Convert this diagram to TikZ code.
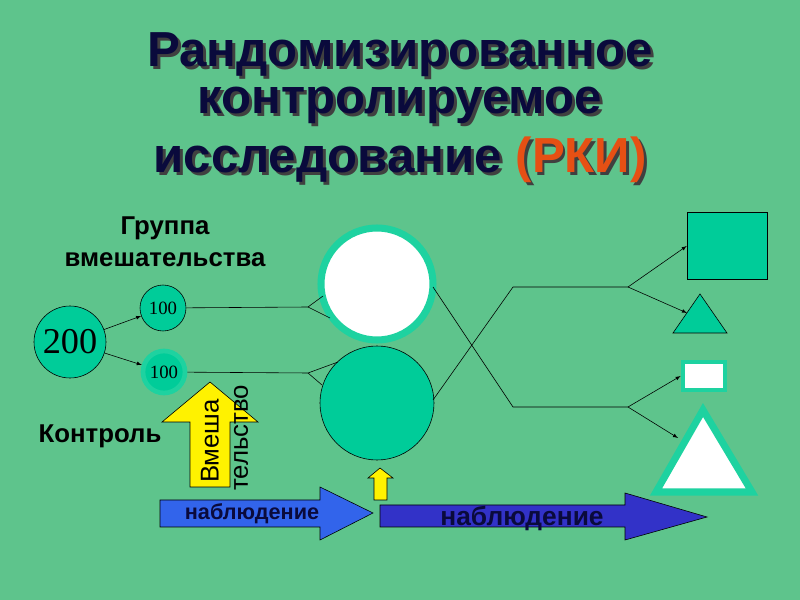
\documentclass[tikz,border=0pt]{standalone}
\usepackage{fontspec}
\setmainfont{Liberation Sans}
\newfontfamily\serf{Liberation Serif}
\definecolor{bg}{RGB}{94,196,140}
\definecolor{gr}{RGB}{0,204,153}
\definecolor{tl}{RGB}{30,210,160}
\definecolor{navy}{RGB}{10,10,60}
\definecolor{bl1}{RGB}{50,100,235}
\definecolor{bl2}{RGB}{50,50,200}
\definecolor{rk}{RGB}{230,80,20}
\tikzset{thin line/.style={draw=black,line width=0.5pt},
 arr/.style={thin line,-latex},
 ttl/.style={font=\bfseries\fontsize{42}{44}\selectfont,text=navy},
 lbl/.style={font=\bfseries\fontsize{22}{24}\selectfont}}
\begin{document}
\begin{tikzpicture}[x=0.03cm,y=-0.03cm]
\fill[bg] (0,0) rectangle (800,600);
\useasboundingbox (0,0) rectangle (800,600);
% title
\node[ttl,text=black!75] at (403,58) {Рандомизированное};
\node[ttl] (t1) at (400,55) {Рандомизированное};
\node[ttl,text=black!75] at (403,108) {контролируемое};
\node[ttl] (t2) at (400,105) {контролируемое};
\node[ttl,text=black!75] at (403,163) {исследование (РКИ)};
\node[ttl] (t3) at (400,160) {исследование \textcolor{rk}{(РКИ)}};
\node[lbl] (g1) at (165,228) {Группа};
\node[lbl] (g2) at (165,260) {вмешательства};
\node[lbl] (k) at (100,436) {Контроль};
% circles
\node[circle,fill=gr,draw=black,line width=0.5pt,minimum size=72*0.03cm,inner sep=0,font=\serf\fontsize{31}{33}\selectfont] (c200) at (70,342) {200};
\node[circle,fill=gr,draw=black,line width=0.5pt,minimum size=46*0.03cm,inner sep=0,font=\serf\fontsize{16}{18}\selectfont] (ca) at (163,308) {100};
\node[circle,fill=gr,draw=tl,line width=4pt,minimum size=42*0.03cm,inner sep=0,font=\serf\fontsize{16}{18}\selectfont] (cb) at (164,372) {100};
\draw[arr] (c200) -- (ca);
\draw[arr] (c200) -- (cb);
\node[circle,fill=white,draw=tl,line width=6pt,minimum size=112*0.03cm] (W) at (377,284) {};
\node[circle,fill=gr,draw=black,line width=0.5pt,minimum size=114*0.03cm] (G) at (377,403) {};
\coordinate (fa) at (308,307); \coordinate (fb) at (308,373);
\draw[thin line] (ca) -- (fa) -- (323,296); \draw[thin line] (fa) -- (330,318);
\draw[thin line] (cb) -- (fb) -- (338,362); \draw[thin line] (fb) -- (322,385);
\coordinate (u) at (628,287); \coordinate (d) at (628,407);
\draw[thin line] (433,287) -- (513,407) -- (d);
\draw[thin line] (433,400) -- (513,287) -- (u);
% outcomes
\node[draw=black,fill=gr,line width=0.5pt,minimum width=80*0.03cm,minimum height=67*0.03cm] (sq) at (727,246) {};
\draw[fill=gr,thin line] (673,333) -- (727,333) -- (700,294) -- cycle;
\coordinate (st) at (687,313);
\node[draw=tl,fill=white,line width=4pt,minimum width=42*0.03cm,minimum height=28*0.03cm] (wr) at (704,376) {};
\draw[draw=tl,fill=white,line width=6pt,line join=miter] (703,410) -- (752,492) -- (656,492) -- cycle;
\coordinate (bt) at (678,438);
\draw[arr] (u) -- (sq.west);
\draw[arr] (u) -- (st);
\draw[arr] (d) -- (wr.west);
\draw[arr] (d) -- (bt);
% yellow arrows
\draw[fill=yellow,thin line] (190,487) -- (190,422) -- (162,422) -- (210,382) -- (258,422) -- (230,422) -- (230,487) -- cycle;
\node[rotate=90,font=\fontsize{22}{24}\selectfont] (v1) at (210,441) {Вмеша};
\node[rotate=90,font=\fontsize{22}{24}\selectfont] (v2) at (241,438) {тельство};
\draw[fill=yellow,thin line] (374,500) -- (374,478) -- (368,478) -- (380,468) -- (393,478) -- (387,478) -- (387,500) -- cycle;
% blue arrows
\draw[fill=bl1,thin line] (160,500) -- (320,500) -- (320,487) -- (373,513) -- (320,540) -- (320,527) -- (160,527) -- cycle;
\node[font=\bfseries\fontsize{18.5}{20}\selectfont,text=navy] (n1) at (252,514) {наблюдение};
\draw[fill=bl2,thin line] (380,505) -- (625,505) -- (625,493) -- (707,517) -- (625,540) -- (625,527) -- (380,527) -- cycle;
\node[font=\bfseries\fontsize{22.5}{24}\selectfont,text=navy] (n2) at (522,518) {наблюдение};
\end{tikzpicture}
\end{document}
